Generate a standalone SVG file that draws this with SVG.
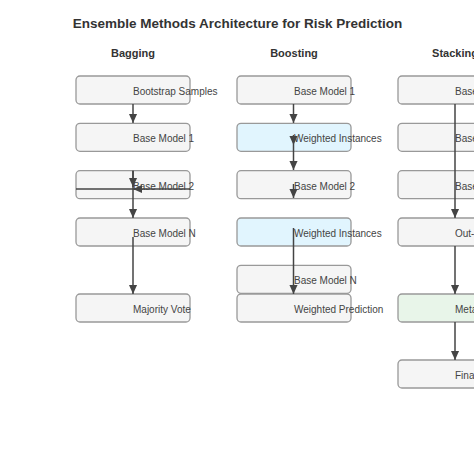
<svg xmlns="http://www.w3.org/2000/svg" width="474" height="474" viewBox="0 0 474 474">
<defs>
<marker id="ah" viewBox="0 0 10 10" refX="10" refY="5" markerWidth="9" markerHeight="9" markerUnits="userSpaceOnUse" orient="auto"><path d="M0,0.5 L10,5 L0,9.5 z" fill="#444"/></marker>
<style>
.box{fill:#f5f5f5;stroke:#999;stroke-width:1.3}
.blue{fill:#e1f5fe}
.green{fill:#e8f5e9}
.t{font-family:"Liberation Sans",Arial,sans-serif;font-size:10px;fill:#444}
.h{font-family:"Liberation Sans",Arial,sans-serif;font-size:11px;font-weight:bold;fill:#333;text-anchor:middle}
.title{font-family:"Liberation Sans",Arial,sans-serif;font-size:13.5px;font-weight:bold;fill:#333;text-anchor:middle}
.c{stroke:#444;stroke-width:1.5;fill:none}
.a{stroke:#444;stroke-width:1.5;fill:none;marker-end:url(#ah)}
</style>
</defs>
<rect width="474" height="474" fill="#fff"/>
<text class="title" x="237.5" y="28">Ensemble Methods Architecture for Risk Prediction</text>
<text class="h" x="133" y="57">Bagging</text>
<text class="h" x="294" y="57">Boosting</text>
<text class="h" x="455" y="57">Stacking</text>

<g id="bag1"><rect class="box" x="76" y="76" width="114" height="28" rx="4"/><text class="t" x="133" y="95">Bootstrap Samples</text></g>
<g id="bag2"><rect class="box" x="76" y="123.3" width="114" height="28" rx="4"/><text class="t" x="133" y="142.3">Base Model 1</text></g>
<g id="bag3"><rect class="box" x="76" y="170.7" width="114" height="28" rx="4"/><text class="t" x="133" y="189.7">Base Model 2</text></g>
<g id="bag4"><rect class="box" x="76" y="218" width="114" height="28" rx="4"/><text class="t" x="133" y="237">Base Model N</text></g>
<g id="bag5"><rect class="box" x="76" y="294" width="114" height="28" rx="4"/><text class="t" x="133" y="313">Majority Vote</text></g>

<g id="boo1"><rect class="box" x="237" y="76" width="114" height="28" rx="4"/><text class="t" x="294" y="95">Base Model 1</text></g>
<g id="boo2"><rect class="box blue" x="237" y="123.3" width="114" height="28" rx="4"/><text class="t" x="294" y="142.3">Weighted Instances</text></g>
<g id="boo3"><rect class="box" x="237" y="170.7" width="114" height="28" rx="4"/><text class="t" x="294" y="189.7">Base Model 2</text></g>
<g id="boo4"><rect class="box blue" x="237" y="218" width="114" height="28" rx="4"/><text class="t" x="294" y="237">Weighted Instances</text></g>
<g id="boo5"><rect class="box" x="237" y="265.3" width="114" height="28" rx="4"/><text class="t" x="294" y="284.3">Base Model N</text></g>
<g id="boo6"><rect class="box" x="237" y="294" width="114" height="28" rx="4"/><text class="t" x="294" y="313">Weighted Prediction</text></g>

<g id="sta1"><rect class="box" x="398" y="76" width="114" height="28" rx="4"/><text class="t" x="455" y="95">Base Model 1</text></g>
<g id="sta2"><rect class="box" x="398" y="123.3" width="114" height="28" rx="4"/><text class="t" x="455" y="142.3">Base Model 2</text></g>
<g id="sta3"><rect class="box" x="398" y="170.7" width="114" height="28" rx="4"/><text class="t" x="455" y="189.7">Base Model N</text></g>
<g id="sta4"><rect class="box" x="398" y="218" width="114" height="28" rx="4"/><text class="t" x="455" y="237">Out-of-Fold Predictions</text></g>
<g id="sta5"><rect class="box green" x="398" y="294" width="114" height="28" rx="4"/><text class="t" x="455" y="313">Meta-Learner</text></g>
<g id="sta6"><rect class="box" x="398" y="360" width="114" height="28" rx="4"/><text class="t" x="455" y="379">Final Prediction</text></g>

<g id="connectors">
<path class="a" d="M133,104 L133,123"/>
<path class="a" d="M133,170.7 L133,187"/>
<path class="a" d="M133,170.7 L133,218"/>
<path class="c" d="M76,189 L133,189"/>
<path class="a" d="M190,189 L133,189"/>
<path class="a" d="M133,237 L133,294"/>

<path class="a" d="M293.5,104 L293.5,123"/>
<path class="a" d="M293.5,135 L293.5,145"/>
<path class="a" d="M293.5,145 L293.5,170"/>
<path class="a" d="M293.5,184 L293.5,198"/>
<path class="a" d="M293.5,228 L293.5,294"/>

<path class="a" d="M455,104 L455,218"/>
<path class="a" d="M455,246 L455,294"/>
<path class="a" d="M455,322 L455,360"/>
</g>
</svg>
